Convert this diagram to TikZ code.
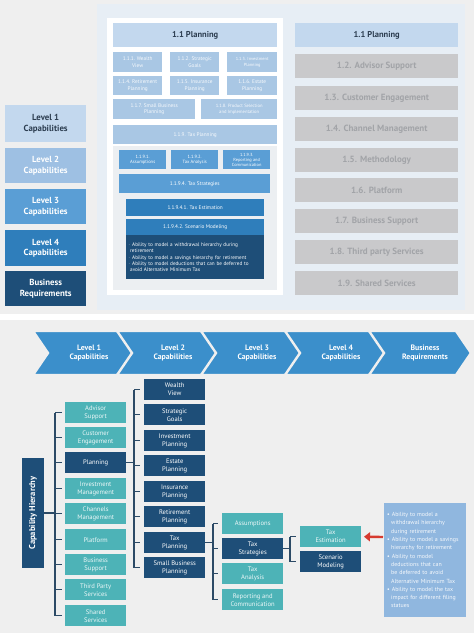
\documentclass[tikz,border=0pt]{standalone}
\usepackage{fontspec}
\setmainfont{PT Sans}
\usetikzlibrary{arrows.meta}
\definecolor{bgGrey}{HTML}{EFEFEF}
\definecolor{panelBlue}{HTML}{E7EEF5}
\definecolor{innerGrey}{HTML}{ECEFF2}
\definecolor{lvlA}{HTML}{C3D8EE}
\definecolor{lvlAsub}{HTML}{A9C7E4}
\definecolor{lvlB}{HTML}{9EC0E3}
\definecolor{lvlC}{HTML}{5A9ED5}
\definecolor{lvlD}{HTML}{2F7EBB}
\definecolor{navy}{HTML}{1E4E78}
\definecolor{greyBox}{HTML}{C9C9CB}
\definecolor{greyText}{HTML}{A2A4A8}
\definecolor{darkText}{HTML}{2C3D50}
\definecolor{tealBox}{HTML}{4DB3B7}
\definecolor{reqBox}{HTML}{90B7DF}
\definecolor{chevBlue}{HTML}{3B8FCB}
\definecolor{brk}{HTML}{2C4A66}
\definecolor{redArrow}{HTML}{D63A2F}
\newcommand\cbox[7]{\node[#1, anchor=north west, minimum width=#5pt, minimum height=#6pt] (#2) at (#3,#4) {#7};}
\tikzset{
  base/.style={inner sep=0pt, align=center, font=\fontsize{5.3}{6.2}\selectfont, text=white},
  hdrA/.style={base, fill=lvlA, text=darkText, font=\bfseries\fontsize{8.5}{10}\selectfont},
  subA/.style={base, fill=lvlAsub, text=white!92!lvlAsub},
  subC/.style={base, fill=lvlC},
  subD/.style={base, fill=lvlD},
  reqDark/.style={base, fill=navy, align=left, text width=134pt, font=\fontsize{5.2}{6.2}\selectfont},
  legA/.style={base, font=\bfseries\fontsize{8.8}{10.5}\selectfont},
  rightG/.style={base, fill=greyBox, text=greyText, font=\bfseries\fontsize{9}{10}\selectfont},
  chevtxt/.style={base, font=\bfseries\fontsize{7.8}{9.2}\selectfont},
  tealB/.style={base, fill=tealBox, font=\fontsize{6.6}{8}\selectfont, text=white!90!tealBox},
  navyB/.style={base, fill=navy, font=\fontsize{6.6}{8}\selectfont},
  brline/.style={draw=brk, line width=1.1pt},
  chevshape/.style={fill=chevBlue, draw=bgGrey, line width=2.4pt, line join=miter},
}
\begin{document}
\begin{tikzpicture}[x=1pt,y=-1pt]
\useasboundingbox (0,0) rectangle (474,637);
\fill[white] (0,0) rectangle (474,637);
% top section
\fill[bgGrey] (0,0) rectangle (474,314);
\fill[panelBlue] (97,4) rectangle (465,310);
\fill[white] (107,18) rectangle (283,295);
\fill[innerGrey] (113,146) rectangle (277,290);
% top panel content
\cbox{hdrA}{tp}{113}{23}{164}{24}{1.1 Planning}
\cbox{subA}{t111}{113}{52}{49}{20}{1.1.1. Wealth\\View}
\cbox{subA}{t112}{170}{52}{49}{20}{1.1.2. Strategic\\Goals}
\cbox{subA,font=\fontsize{4.4}{5.6}\selectfont}{t113}{227}{52}{50}{20}{1.1.3. Investment\\Planning}
\cbox{subA}{t114}{113}{76}{49}{19}{1.1.4. Retirement\\Planning}
\cbox{subA}{t115}{170}{76}{49}{19}{1.1.5. Insurance\\Planning}
\cbox{subA}{t116}{227}{76}{50}{19}{1.1.6. Estate\\Planning}
\cbox{subA}{t117}{113}{99}{82}{20}{1.1.7. Small Business\\Planning}
\cbox{subA,font=\fontsize{4.6}{5.8}\selectfont}{t118}{201}{99}{76}{20}{1.1.8. Product Selection\\and Implementation}
\cbox{subA}{t119}{113}{125}{164}{19}{1.1.9. Tax Planning}
\cbox{subC,font=\fontsize{4.6}{5.4}\selectfont}{t1191}{119}{150}{47}{19}{1.1.9.1.\\Assumptions}
\cbox{subC,font=\fontsize{4.6}{5.4}\selectfont}{t1192}{171}{150}{47}{19}{1.1.9.2.\\Tax Analysis}
\cbox{subC,font=\fontsize{4.4}{4.9}\selectfont}{t1193}{223}{150}{47}{19}{1.1.9.3.\\Reporting and\\Communication}
\cbox{subC}{t1194}{119}{174}{151}{19}{1.1.9.4. Tax Strategies}
\cbox{subD}{t11941}{126}{199}{138}{17}{1.1.9.4.1. Tax Estimation}
\cbox{subD}{t11942}{126}{219}{138}{16}{1.1.9.4.2. Scenario Modeling}
\node[reqDark, anchor=north west, minimum width=138pt, minimum height=44pt, text width=134pt, inner xsep=2pt] (treq) at (126,235) {%
$\cdot$ Ability to model a withdrawal hierarchy during\\
\hspace*{2pt}retirement\\
$\cdot$ Ability to model a savings hierarchy for retirement\\
$\cdot$ Ability to model deductions that can be deferred to\\
\hspace*{2pt}avoid Alternative Minimum Tax};
% legend
\cbox{legA,fill=lvlA,text=darkText}{lg1}{5}{105}{81}{37}{Level 1\\Capabilities}
\cbox{legA,fill=lvlB}{lg2}{5}{148}{81}{35}{Level 2\\Capabilities}
\cbox{legA,fill=lvlC}{lg3}{5}{189}{81}{35}{Level 3\\Capabilities}
\cbox{legA,fill=lvlD}{lg4}{5}{230}{81}{36}{Level 4\\Capabilities}
\cbox{legA,fill=navy}{lg5}{5}{271}{81}{35}{Business\\Requirements}
% right column
\cbox{hdrA}{r11}{295}{23}{163}{24}{1.1 Planning}
\cbox{rightG}{r12}{295}{54}{163}{24}{1.2. Advisor Support}
\cbox{rightG}{r13}{295}{86}{163}{24}{1.3. Customer Engagement}
\cbox{rightG}{r14}{295}{117}{163}{24}{1.4. Channel Management}
\cbox{rightG}{r15}{295}{148}{163}{24}{1.5. Methodology}
\cbox{rightG}{r16}{295}{178}{163}{24}{1.6. Platform}
\cbox{rightG}{r17}{295}{209}{163}{24}{1.7. Business Support}
\cbox{rightG}{r18}{295}{240}{163}{24}{1.8. Third party Services}
\cbox{rightG}{r19}{295}{271}{163}{24}{1.9. Shared Services}
% bottom section
\fill[bgGrey] (0,320) rectangle (474,633);
\foreach \i/\lab in {0/{Level 1\\Capabilities},1/{Level 2\\Capabilities},2/{Level 3\\Capabilities},3/{Level 4\\Capabilities},4/{Business\\Requirements}}{
  \pgfmathsetmacro\xo{33+84*\i}
  \path[chevshape] (\xo,331) -- (\xo+87,331) -- (\xo+102,353) -- (\xo+87,375) -- (\xo,375) -- (\xo+15,353) -- cycle;
  \node[chevtxt] (chev\i) at (\xo+56,353) {\lab};
}
% capability hierarchy
\node[base, fill=navy, rotate=90, minimum width=110pt, minimum height=22pt, font=\bfseries\fontsize{8.5}{10}\selectfont] (cap) at (33,513) {Capability Hierarchy};
% level 1 boxes
\cbox{tealB}{a1}{65}{402}{61}{21}{Advisor\\Support}
\cbox{tealB}{a2}{65}{427}{61}{21}{Customer\\Engagement}
\cbox{navyB}{a3}{65}{452}{61}{21}{Planning}
\cbox{tealB}{a4}{65}{478}{61}{21}{Investment\\Management}
\cbox{tealB}{a5}{65}{503}{61}{21}{Channels\\Management}
\cbox{tealB}{a6}{65}{529}{61}{21}{Platform}
\cbox{tealB}{a7}{65}{554}{61}{21}{Business\\Support}
\cbox{tealB}{a8}{65}{579}{61}{21}{Third Party\\Services}
\cbox{tealB}{a9}{65}{605}{61}{21}{Shared\\Services}
% level 2 boxes
\cbox{navyB}{b1}{144}{379}{61}{21}{Wealth\\View}
\cbox{navyB}{b2}{144}{404}{61}{21}{Strategic\\Goals}
\cbox{navyB}{b3}{144}{430}{61}{21}{Investment\\Planning}
\cbox{navyB}{b4}{144}{455}{61}{21}{Estate\\Planning}
\cbox{navyB}{b5}{144}{481}{61}{21}{Insurance\\Planning}
\cbox{navyB}{b6}{144}{506}{61}{21}{Retirement\\Planning}
\cbox{navyB}{b7}{144}{532}{61}{21}{Tax\\Planning}
\cbox{navyB}{b8}{144}{557}{61}{21}{Small Business\\Planning}
% level 3 boxes
\cbox{tealB}{c1}{222}{513}{61}{21}{Assumptions}
\cbox{navyB}{c2}{222}{538}{61}{21}{Tax\\Strategies}
\cbox{tealB}{c3}{222}{563}{61}{21}{Tax\\Analysis}
\cbox{tealB}{c4}{222}{589}{61}{21}{Reporting and\\Communication}
% level 4 boxes
\cbox{tealB}{d1}{300}{526}{61}{21}{Tax\\Estimation}
\cbox{navyB}{d2}{300}{551}{61}{21}{Scenario\\Modeling}
% requirements
\node[base, fill=reqBox, anchor=north west, minimum width=82pt, minimum height=114pt, align=left, text width=76pt, inner xsep=3pt, inner ysep=4pt, font=\fontsize{5.9}{8.3}\selectfont, text=white!92!reqBox, anchor=north west] (req) at (384,503) {%
\textbullet\ Ability to model a\\
\hspace*{4pt}withdrawal hierarchy\\
\hspace*{4pt}during retirement\\
\textbullet\ Ability to model a savings\\
\hspace*{4pt}hierarchy for retirement\\
\textbullet\ Ability to model\\
\hspace*{4pt}deductions that can\\
\hspace*{4pt}be deferred to avoid\\
\hspace*{4pt}Alternative Minimum Tax\\
\textbullet\ Ability to model the tax\\
\hspace*{4pt}impact for different filing\\
\hspace*{4pt}statues};
\coordinate (arrS) at (383,537);
\draw[redArrow, line width=2.4pt, -{Triangle[width=9pt,length=6pt]}] (arrS) -- (d1.east -| 364,0);
% brackets
\coordinate (k1) at ([xshift=-10pt]a1.west);
\coordinate (k1b) at ([xshift=-10pt]a9.west);
\draw[brline] (k1) -- (k1b);
\foreach \n in {a1,a2,a3,a4,a5,a6,a7,a8,a9}{\draw[brline] ([xshift=-10pt]\n.west) -- ([xshift=-3pt]\n.west);}
\draw[brline] (cap.south) -- (cap.south -| k1);
\coordinate (k2) at ([xshift=-10pt]b1.west);
\coordinate (k2b) at ([xshift=-10pt]b8.west);
\draw[brline] (k2) -- (k2b);
\foreach \n in {b1,b2,b3,b4,b5,b6,b7,b8}{\draw[brline] ([xshift=-10pt]\n.west) -- ([xshift=-4pt]\n.west);}
\draw[brline] (a3.east) -- (a3.east -| k2);
\coordinate (k3) at ([xshift=-9pt]c1.west);
\coordinate (k3b) at ([xshift=-9pt]c4.west);
\draw[brline] (k3) -- (k3b);
\foreach \n in {c1,c2,c3,c4}{\draw[brline] ([xshift=-9pt]\n.west) -- ([xshift=-4pt]\n.west);}
\draw[brline] (b7.east) -- (b7.east -| k3);
\coordinate (k4) at ([xshift=-10pt]d1.west);
\coordinate (k4b) at ([xshift=-10pt]d2.west);
\draw[brline] (k4) -- (k4b);
\foreach \n in {d1,d2}{\draw[brline] ([xshift=-10pt]\n.west) -- ([xshift=-4pt]\n.west);}
\draw[brline] (c2.east) -- (c2.east -| k4);
\end{tikzpicture}
\end{document}
